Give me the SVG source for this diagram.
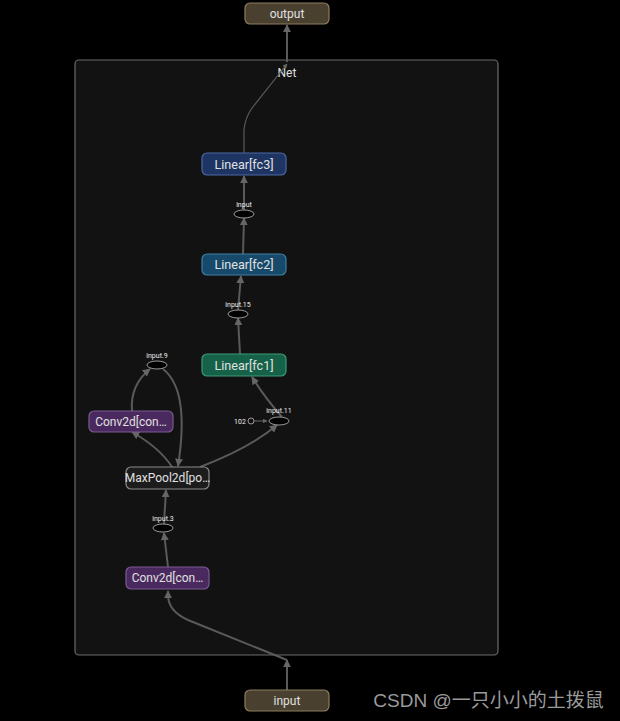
<svg xmlns="http://www.w3.org/2000/svg" width="620" height="721" viewBox="0 0 620 721">
<defs>
<marker id="ah" viewBox="0 0 10 10" refX="9" refY="5" markerWidth="4" markerHeight="4" orient="auto-start-reverse">
<path d="M0,0 L10,5 L0,10 z" fill="#666"/>
</marker>
<style>
.edge{fill:none;stroke:#5a5a5a;stroke-width:2;marker-end:url(#ah)}
.thin{stroke-width:1.2}
.nt{font-family:Roboto,"Noto Sans",sans-serif;font-size:12px;fill:#e0e0e0;text-anchor:middle;dominant-baseline:central}
.lin{font-size:12.6px}
.lb{font-family:Roboto,"Noto Sans",sans-serif;font-size:7px;fill:#eeeeee;text-anchor:middle}
.el{fill:#000;stroke:#9a9a9a;stroke-width:1}
.io{fill:#4a4030;stroke:#8c7d5c;stroke-width:1.2}
</style>
</defs>
<rect width="620" height="721" fill="#000"/>
<rect x="75" y="60" width="423" height="595" rx="4" fill="#121212" stroke="#6a6a6a" stroke-width="1.2"/>
<text x="287" y="73" class="nt" fill="#ccc">Net</text>
<g id="connectors">
<path class="edge" d="M287,690 L287,660"/>
<path class="edge" d="M287,660 L188,620 Q168,611 168,595 L168,591"/>
<path class="edge" d="M168,567 L164,533"/>
<path class="edge" d="M164,524 L166,490"/>
<path class="edge" d="M172,467 Q160,448 132,432"/>
<path class="edge" d="M132,411 Q130,385 150,369"/>
<path class="edge" d="M163,369 Q190,390 178,466"/>
<path class="edge" d="M200,467 Q250,448 277,425"/>
<path class="edge thin" d="M254,421 L267,421"/>
<path class="edge" d="M282,417 Q265,398 252,377"/>
<path class="edge" d="M240,354 L238,318"/>
<path class="edge" d="M238,310 L241,276"/>
<path class="edge" d="M243,254 L244,218"/>
<path class="edge" d="M244,210 L244,176"/>
<path class="edge thin" d="M244,153 L244,130 Q245,118 252,108 L287,64"/>
<path class="edge" d="M287,62 L287,25"/>
</g>
<g id="output"><rect class="io" x="245" y="3" width="84" height="21" rx="5"/><text x="287" y="13.5" class="nt">output</text></g>
<g id="input"><rect class="io" x="245" y="690" width="84" height="21" rx="5"/><text x="287" y="700.5" class="nt">input</text></g>
<g id="fc3"><rect x="202" y="153" width="84" height="22" rx="5" fill="#1e3463" stroke="#4b68a3" stroke-width="1.2"/><text x="244" y="164" class="nt lin">Linear[fc3]</text></g>
<g id="fc2"><rect x="202" y="254" width="84" height="21" rx="5" fill="#174a6a" stroke="#3f7ea3" stroke-width="1.2"/><text x="244" y="264.5" class="nt lin">Linear[fc2]</text></g>
<g id="fc1"><rect x="202" y="354" width="84" height="22" rx="5" fill="#156248" stroke="#3e9a78" stroke-width="1.2"/><text x="244" y="365" class="nt lin">Linear[fc1]</text></g>
<g id="conv2"><rect x="89" y="411" width="84" height="21" rx="5" fill="#4a2a5e" stroke="#7a5a92" stroke-width="1.2"/><text x="131" y="421.5" class="nt">Conv2d[con…</text></g>
<g id="pool"><rect x="126" y="467" width="83" height="22" rx="5" fill="#1c1c1c" stroke="#8a8a8a" stroke-width="1.2"/><text x="167.5" y="478" class="nt" font-size="11">MaxPool2d[po…</text></g>
<g id="conv1"><rect x="126" y="567" width="83" height="22" rx="5" fill="#4a2a5e" stroke="#7a5a92" stroke-width="1.2"/><text x="167.5" y="578" class="nt">Conv2d[con…</text></g>
<g id="n_input"><ellipse class="el" cx="244" cy="214" rx="10" ry="4"/><text x="244" y="207" class="lb">input</text></g>
<g id="n_input15"><ellipse class="el" cx="238" cy="314" rx="10" ry="4"/><text x="238" y="307" class="lb">input.15</text></g>
<g id="n_input9"><ellipse class="el" cx="157" cy="365" rx="10" ry="4"/><text x="157" y="358" class="lb">input.9</text></g>
<g id="n_input11"><ellipse class="el" cx="279" cy="421" rx="10" ry="4"/><text x="279" y="413" class="lb">input.11</text></g>
<g id="n_input3"><ellipse class="el" cx="163" cy="528" rx="10" ry="4"/><text x="163" y="521" class="lb">input.3</text></g>
<g id="c102"><circle cx="251" cy="421" r="3" fill="none" stroke="#9a9a9a" stroke-width="1"/><text x="240" y="423.5" class="lb">102</text></g>
<text x="488.5" y="700" font-family="'Liberation Sans','Noto Sans CJK SC',sans-serif" font-size="19" fill="#9a9a9a" text-anchor="middle" dominant-baseline="central">CSDN @一只小小的土拨鼠</text>
</svg>
